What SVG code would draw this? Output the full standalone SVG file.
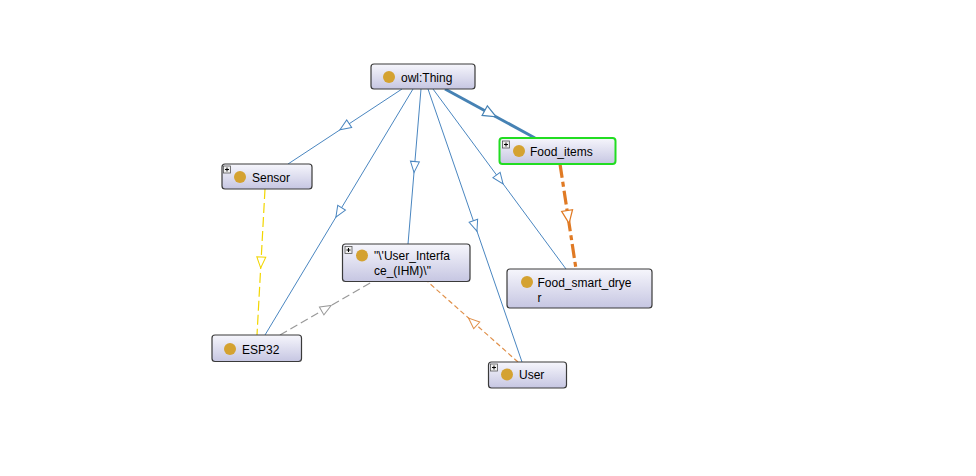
<svg xmlns="http://www.w3.org/2000/svg" width="976" height="476" viewBox="0 0 976 476">
<style>
.n{fill:url(#g);stroke:#3a3a3a;stroke-width:1.2}
.t{font-family:"Liberation Sans",Arial,sans-serif;font-size:12px;fill:#000}
.c{fill:#d4a231}
.pb{fill:#eeeeee;stroke:#555;stroke-width:0.8}
.pl{stroke:#000;stroke-width:1}
.e{fill:none}
</style>
<defs>
<linearGradient id="g" x1="0" y1="0" x2="0" y2="1">
<stop offset="0" stop-color="#f6f6fc"/>
<stop offset="1" stop-color="#c6c6e2"/>
</linearGradient>
<marker id="mb" viewBox="-8 -8 16 16" refX="0" refY="0" markerWidth="16" markerHeight="16" markerUnits="userSpaceOnUse" orient="auto">
<path d="M-5,-4.5 L6,0 L-5,4.5 Z" fill="#fff" stroke="#4a86c0" stroke-width="1"/>
</marker>
<marker id="mbt" viewBox="-9 -9 18 18" refX="0" refY="0" markerWidth="18" markerHeight="18" markerUnits="userSpaceOnUse" orient="auto">
<path d="M-6,-5.5 L7,0 L-6,5.5 Z" fill="#fff" stroke="#4682b4" stroke-width="1.2"/>
</marker>
<marker id="mo" viewBox="-9 -9 18 18" refX="0" refY="0" markerWidth="18" markerHeight="18" markerUnits="userSpaceOnUse" orient="auto">
<path d="M-6,-5.5 L7,0 L-6,5.5 Z" fill="#fff" stroke="#e07a24" stroke-width="1.2"/>
</marker>
<marker id="my" viewBox="-8 -8 16 16" refX="0" refY="0" markerWidth="16" markerHeight="16" markerUnits="userSpaceOnUse" orient="auto">
<path d="M-5,-4.5 L6,0 L-5,4.5 Z" fill="#fff" stroke="#f2d600" stroke-width="1"/>
</marker>
<marker id="mg" viewBox="-8 -8 16 16" refX="0" refY="0" markerWidth="16" markerHeight="16" markerUnits="userSpaceOnUse" orient="auto">
<path d="M-5,-4.5 L6,0 L-5,4.5 Z" fill="#fff" stroke="#999" stroke-width="1"/>
</marker>
<marker id="mo2" viewBox="-8 -8 16 16" refX="0" refY="0" markerWidth="16" markerHeight="16" markerUnits="userSpaceOnUse" orient="auto">
<path d="M-5,-4.5 L6,0 L-5,4.5 Z" fill="#fff" stroke="#e0904a" stroke-width="1"/>
</marker>
</defs>
<rect width="976" height="476" fill="#fff"/>
<g id="connectors">
<polyline class="e" points="402,89 345,126.5 288,164" stroke="#4a86c0" stroke-width="1" marker-mid="url(#mb)"/>
<polyline class="e" points="413,89 339,212 265,335" stroke="#4a86c0" stroke-width="1" marker-mid="url(#mb)"/>
<polyline class="e" points="421,89 414.5,166.5 408,244" stroke="#4a86c0" stroke-width="1" marker-mid="url(#mb)"/>
<polyline class="e" points="428,89 475,225.5 522,362" stroke="#4a86c0" stroke-width="1" marker-mid="url(#mb)"/>
<polyline class="e" points="433,89 499.5,179 566,269" stroke="#4a86c0" stroke-width="1" marker-mid="url(#mb)"/>
<polyline class="e" points="445,89 490,113.5 535,138" stroke="#4682b4" stroke-width="3" marker-mid="url(#mbt)"/>
<polyline class="e" points="560,164 568,216.5 576,269" stroke="#e07a24" stroke-width="3.2" stroke-dasharray="14 4 5 4" marker-mid="url(#mo)"/>
<polyline class="e" points="265,189 261,262 257,335" stroke="#f2d600" stroke-width="1.2" stroke-dasharray="10 4" marker-mid="url(#my)"/>
<polyline class="e" points="280,335 326,308.5 372,282" stroke="#999" stroke-width="1.2" stroke-dasharray="8 4" marker-mid="url(#mg)"/>
<polyline class="e" points="518,362 473,322 428,282" stroke="#e0904a" stroke-width="1.2" stroke-dasharray="5 3" marker-mid="url(#mo2)"/>
</g>
<g id="owl_Thing">
<rect class="n" x="371" y="64" width="104" height="25" rx="3"/>
<circle class="c" cx="389" cy="77" r="6"/>
<text class="t" x="401" y="81.5">owl:Thing</text>
</g>
<g id="Food_items">
<rect x="499.5" y="138" width="116" height="26" rx="3" fill="url(#g)" stroke="#22dd22" stroke-width="2"/>
<rect class="pb" x="502.5" y="141" width="7" height="7"/>
<path class="pl" d="M504,144.5 H508 M506,142.5 V146.5"/>
<circle class="c" cx="519" cy="151" r="6"/>
<text class="t" x="530" y="155.5">Food_items</text>
</g>
<g id="Sensor">
<rect class="n" x="222" y="164" width="90" height="25" rx="3"/>
<rect class="pb" x="223.5" y="166" width="7" height="7"/>
<path class="pl" d="M225,169.5 H229 M227,167.5 V171.5"/>
<circle class="c" cx="240" cy="177" r="6"/>
<text class="t" x="252" y="181.5">Sensor</text>
</g>
<g id="User_Interface">
<rect class="n" x="342.5" y="244" width="127.5" height="37.5" rx="3"/>
<rect class="pb" x="345" y="246.5" width="7" height="7"/>
<path class="pl" d="M346.5,250 H350.5 M348.5,248 V252"/>
<circle class="c" cx="362" cy="255.5" r="6"/>
<text class="t" x="374" y="260">"\'User_Interfa</text>
<text class="t" x="374" y="275">ce_(IHM)\"</text>
</g>
<g id="Food_smart_dryer">
<rect class="n" x="507" y="269" width="145" height="39" rx="3"/>
<circle class="c" cx="527" cy="282" r="6"/>
<text class="t" x="537.5" y="286.5">Food_smart_drye</text>
<text class="t" x="537.5" y="301.5">r</text>
</g>
<g id="ESP32">
<rect class="n" x="212" y="335" width="89.5" height="26.5" rx="3"/>
<circle class="c" cx="230" cy="349" r="6"/>
<text class="t" x="242" y="353.5">ESP32</text>
</g>
<g id="User">
<rect class="n" x="488.5" y="362" width="78" height="26" rx="3"/>
<rect class="pb" x="490.5" y="364" width="7" height="7"/>
<path class="pl" d="M492,367.5 H496 M494,365.5 V369.5"/>
<circle class="c" cx="507" cy="374.5" r="6"/>
<text class="t" x="519" y="379">User</text>
</g>
</svg>
